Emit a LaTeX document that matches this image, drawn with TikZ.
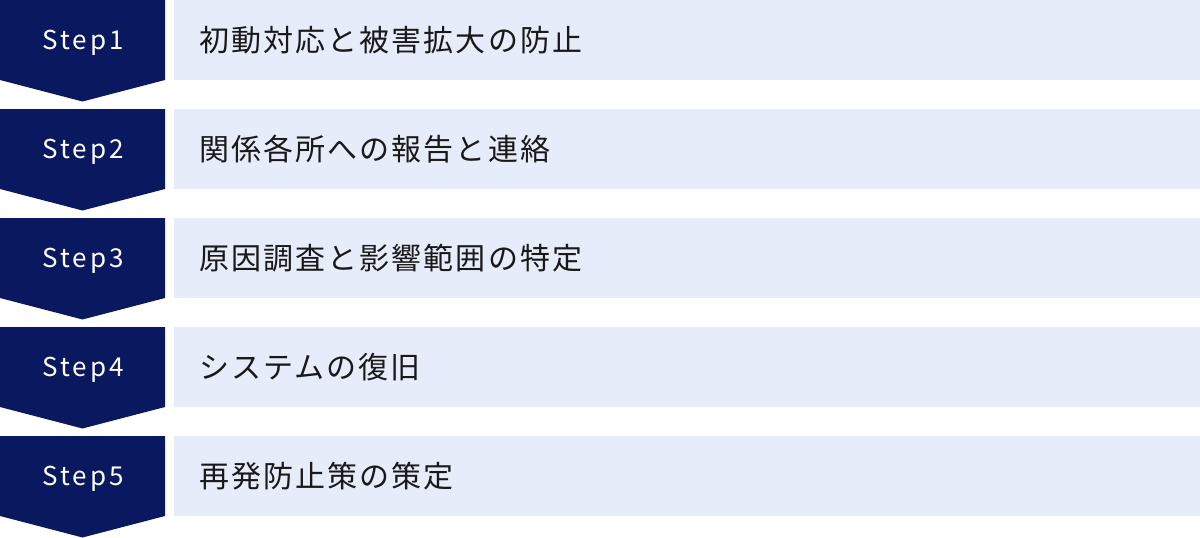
\documentclass[tikz,border=0pt]{standalone}
\usepackage{fontspec}
\newfontfamily\stepfont[LetterSpace=12]{Noto Sans CJK JP}
\newfontfamily\jplsfont[LetterSpace=7]{Noto Sans CJK JP}
\definecolor{navy}{RGB}{10,24,96}
\definecolor{lightbg}{RGB}{230,236,249}
\definecolor{txt}{RGB}{25,25,25}
\begin{document}
\begin{tikzpicture}[x=1pt,y=-1pt,
  steplabel/.style={text=white,font=\stepfont\fontsize{26}{30}\selectfont,inner sep=0pt,anchor=base},
  itemlabel/.style={text=txt,font=\jplsfont\fontsize{30}{36}\selectfont,inner sep=0pt,anchor=base west}]
\useasboundingbox (0,0) rectangle (1200,538);
\foreach \i/\s/\t in {0/1/初動対応と被害拡大の防止,1/2/関係各所への報告と連絡,2/3/原因調査と影響範囲の特定,3/4/システムの復旧,4/5/再発防止策の策定}{
  \pgfmathsetmacro{\yy}{\i*109}
  \fill[navy] (0,\yy) -- (165,\yy) -- (165,\yy+80) -- (82.5,\yy+101.5) -- (0,\yy+80) -- cycle;
  \fill[lightbg] (174,\yy) rectangle (1200,\yy+80);
  \node[steplabel] (s\s) at (83,\yy+49) {Step\s};
  \node[itemlabel] (t\s) at (199,\yy+51.5) {\t};
}
\end{tikzpicture}
\end{document}
